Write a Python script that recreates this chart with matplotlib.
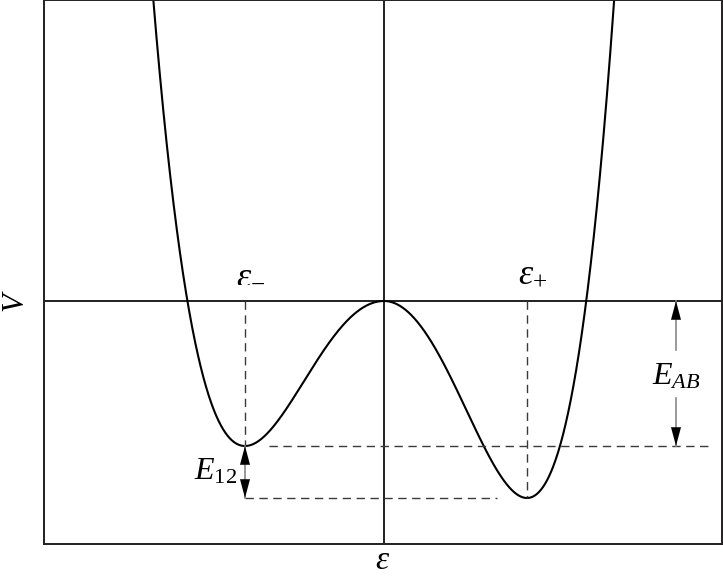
import numpy as np
import matplotlib
matplotlib.use("Agg")
import matplotlib.pyplot as plt

plt.rcParams['mathtext.fontset'] = 'custom'
plt.rcParams['mathtext.rm'] = 'Liberation Serif'
plt.rcParams['mathtext.it'] = 'Liberation Serif:italic'
plt.rcParams['mathtext.bf'] = 'Liberation Serif:bold'
plt.rcParams['font.family'] = ['Liberation Serif', 'DejaVu Serif']

# ---- data (arbitrary units) ----
well_labels = [r'$\varepsilon_{-}$', r'$\varepsilon_{+}$']
well_positions = [-1.39, 1.43]      # epsilon at the two minima
well_depths = [-1.45, -1.97]        # V at the two minima
x_limits = [-3.40, 3.38]
y_limits = [-2.43, 3.01]
e_ab_label = r'$E_{AB}$'
e_12_label = r'$E_{12}$'

LINE = '#231f20'
DASH = '#3a3a3a'
SHAFT = '#8a8a8a'

# double-well curve built from the minima positions and depths
x = np.linspace(x_limits[0], x_limits[1], 2000)
sL, sR = abs(well_positions[0]), abs(well_positions[1])
dL, dR = abs(well_depths[0]), abs(well_depths[1])
uL, uR = x / sL, x / sR
V = np.where(x < 0, dL * (uL**4 - 2 * uL**2), dR * (uR**4 - 2 * uR**2))

fig = plt.figure(figsize=(7.23, 5.78), dpi=100)
ax = fig.add_axes([44/723, 34/578, 678/723, 544/578])
ax.set_xlim(x_limits)
ax.set_ylim(y_limits)
ax.set_xticks([])
ax.set_yticks([])
for sp in ax.spines.values():
    sp.set_color(LINE)
    sp.set_linewidth(1.4)

# axes through origin
ax.axhline(0, color=LINE, lw=1.4)
ax.axvline(0, color=LINE, lw=1.4)

# potential curve
ax.plot(x, V, color='black', lw=1.5, solid_capstyle='butt')

dash = dict(color=DASH, lw=1.0, linestyle=(0, (6, 4)))
# vertical dashed lines from minima up to V=0
for xp, vd in zip(well_positions, well_depths):
    ax.plot([xp, xp], [0, vd], **dash)
# horizontal dashed lines at minima levels
ax.plot([-1.15, 3.26], [well_depths[0], well_depths[0]], **dash)
ax.plot([well_positions[0], 1.13], [well_depths[1], well_depths[1]], **dash)

# well labels
for lab, xp in zip(well_labels, well_positions):
    ax.text(xp + 0.06, 0.11, lab, fontsize=26, ha='center', va='bottom')

def head(tip, tail):
    ax.annotate('', xy=tip, xytext=tail,
                arrowprops=dict(arrowstyle='-|>,head_length=1.35,head_width=0.36',
                                color='black', lw=0.01, shrinkA=0, shrinkB=0,
                                mutation_scale=10))

# E_AB double arrow
xa = 2.92
ax.plot([xa, xa], [0, -0.49], color=SHAFT, lw=1.2)
ax.plot([xa, xa], [-0.97, well_depths[0]], color=SHAFT, lw=1.2)
head((xa, 0), (xa, -0.4))
head((xa, well_depths[0]), (xa, well_depths[0] + 0.4))
ax.text(xa, -0.76, e_ab_label, fontsize=23, ha='center', va='center')

# E_12 double arrow
xb = well_positions[0]
ax.plot([xb, xb], [well_depths[0], well_depths[1]], color=SHAFT, lw=1.2)
head((xb, well_depths[0]), (xb, well_depths[0] - 0.26))
head((xb, well_depths[1]), (xb, well_depths[1] + 0.26))
ax.text(xb - 0.08, -1.71, e_12_label, fontsize=23, ha='right', va='center')

# axis labels
fig.text(383/723, 2/578, r'$\varepsilon$', fontsize=24, ha='center', va='bottom')
fig.text(2/723, 1 - 301/578, r'$V$', fontsize=22, rotation=90, ha='left', va='center')

fig.savefig('out.png', dpi=100)
